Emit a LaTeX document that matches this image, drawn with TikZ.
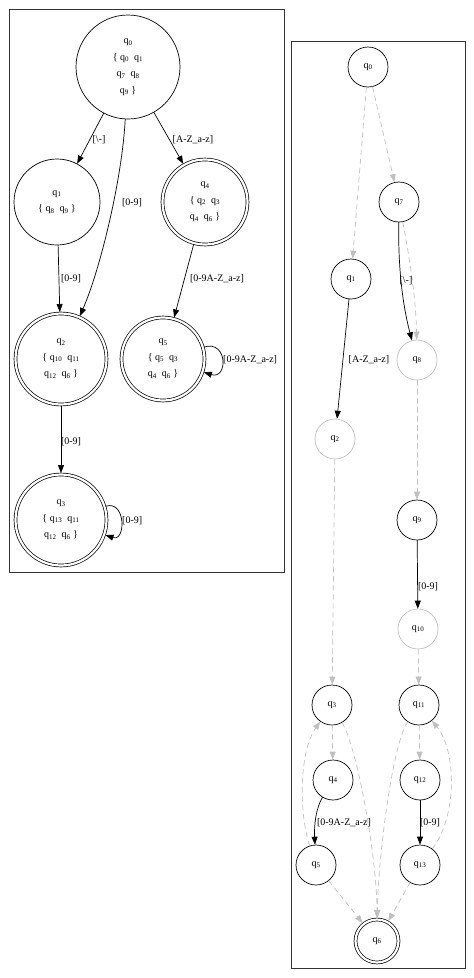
\documentclass[tikz,border=0pt]{standalone}
\usepackage{fontspec}
\setmainfont{Liberation Serif}
\usetikzlibrary{arrows.meta}
\definecolor{faded}{HTML}{C0C0C0}
\newcommand{\qn}[1]{q\textsubscript{#1}}

\begin{document}
\begin{tikzpicture}[line cap=round,line join=round,>={Triangle[length=8pt,width=6pt]},x=1pt,y=-1pt,
	font=\fontsize{10}{16.5}\selectfont,
	every node/.style={inner sep=0pt},
	state/.style={circle,draw,line width=0.7pt,align=center},
	final/.style={state,double,double distance=2.2pt,outer sep=1.5pt},
	faint/.style={draw=faded},
	trans/.style={->,line width=0.7pt},
	eps/.style={->,line width=0.7pt,color=faded,dash pattern=on 5pt off 4pt}]
		\useasboundingbox (0,0) rectangle (474,978);
		\draw [line width=0.8pt,black!80] (9,9) rectangle (284,572);
		\draw [line width=0.8pt,black!80] (291,41) rectangle (465,968);
		% DFA
		\node[state,minimum size=104pt] (a0) at (128,67) {\qn{0}\\\{ \qn{0}~~\qn{1}\\\qn{7}~~\qn{8}\\\qn{9} \}};
		\node[state,minimum size=86pt] (a1) at (57,202) {\qn{1}\\\{ \qn{8}~~\qn{9} \}};
		\node[final,minimum size=85pt] (a4) at (205,202) {\qn{4}\\\{ \qn{2}~~\qn{3}\\\qn{4}~~\qn{6} \}};
		\node[final,minimum size=91pt] (a2) at (61,359) {\qn{2}\\\{ \qn{10}~~\qn{11}\\\qn{12}~~\qn{6} \}};
		\node[final,minimum size=83pt] (a5) at (163,359) {\qn{5}\\\{ \qn{5}~~\qn{3}\\\qn{4}~~\qn{6} \}};
		\node[final,minimum size=91pt] (a3) at (61,520) {\qn{3}\\\{ \qn{13}~~\qn{11}\\\qn{12}~~\qn{6} \}};
		\draw [trans] (a0) -- (a1);
		\draw [trans] (a0) .. controls (122,180) and (100,270) .. (a2);
		\draw [trans] (a0) -- (a4);
		\draw [trans] (a1) -- (a2);
		\draw [trans] (a4) -- (a5);
		\draw [trans] (a5) .. controls (228,340) and (228,380) .. (a5);
		\draw [trans] (a2) -- (a3);
		\draw [trans] (a3) .. controls (126,500) and (126,542) .. (a3);
		\node at (99,140) {[\textbackslash-]};
		\node at (132,203) {[0-9]};
		\node at (193,140) {[A-Z\_a-z]};
		\node at (71,279) {[0-9]};
		\node at (217,279) {[0-9A-Z\_a-z]};
		\node[anchor=west] at (223,360) {[0-9A-Z\_a-z]};
		\node at (71,442) {[0-9]};
		\node[anchor=west] at (122,521) {[0-9]};
		% NFA
		\node[state,minimum size=40pt] (b0) at (368,67) {\qn{0}};
		\node[state,minimum size=40pt] (b7) at (399,202) {\qn{7}};
		\node[state,minimum size=40pt] (b1) at (351,279) {\qn{1}};
		\node[state,faint,minimum size=40pt] (b8) at (417,360) {\qn{8}};
		\node[state,faint,minimum size=40pt] (b2) at (335,439) {\qn{2}};
		\node[state,minimum size=40pt] (b9) at (417,520) {\qn{9}};
		\node[state,faint,minimum size=40pt] (b10) at (418,629) {\qn{10}};
		\node[state,minimum size=40pt] (b3) at (332,705) {\qn{3}};
		\node[state,minimum size=40pt] (b11) at (419,705) {\qn{11}};
		\node[state,minimum size=40pt] (b4) at (333,780) {\qn{4}};
		\node[state,minimum size=40pt] (b12) at (420,780) {\qn{12}};
		\node[state,minimum size=40pt] (b5) at (316,865) {\qn{5}};
		\node[state,minimum size=40pt] (b13) at (420,865) {\qn{13}};
		\node[final,minimum size=43pt] (b6) at (377,941) {\qn{6}};
		\draw [eps] (b0) -- (b1);
		\draw [eps] (b0) -- (b7);
		\draw [trans] (b7) .. controls (398,275) and (404,310) .. (b8);
		\draw [eps] (b7) .. controls (410,260) and (416,300) .. (b8);
		\draw [trans] (b1) -- (b2);
		\draw [eps] (b8) -- (b9);
		\draw [eps] (b2) -- (b3);
		\draw [trans] (b9) -- (b10);
		\draw [eps] (b10) -- (b11);
		\draw [eps] (b3) -- (b4);
		\draw [trans] (b4) .. controls (316,808) and (314,825) .. (b5);
		\draw [eps] (b5) .. controls (298,810) and (300,750) .. (b3);
		\draw [eps] (b3) .. controls (358,750) and (377,860) .. (b6);
		\draw [eps] (b5) -- (b6);
		\draw [eps] (b11) -- (b12);
		\draw [trans] (b12) -- (b13);
		\draw [eps] (b13) .. controls (458,815) and (456,750) .. (b11);
		\draw [eps] (b11) .. controls (392,745) and (378,860) .. (b6);
		\draw [eps] (b13) -- (b6);
		\node at (406,281) {[\textbackslash-]};
		\node at (369,360) {[A-Z\_a-z]};
		\node at (428,587) {[0-9]};
		\node at (344,823) {[0-9A-Z\_a-z]};
		\node at (430,823) {[0-9]};
\end{tikzpicture}
\end{document}
